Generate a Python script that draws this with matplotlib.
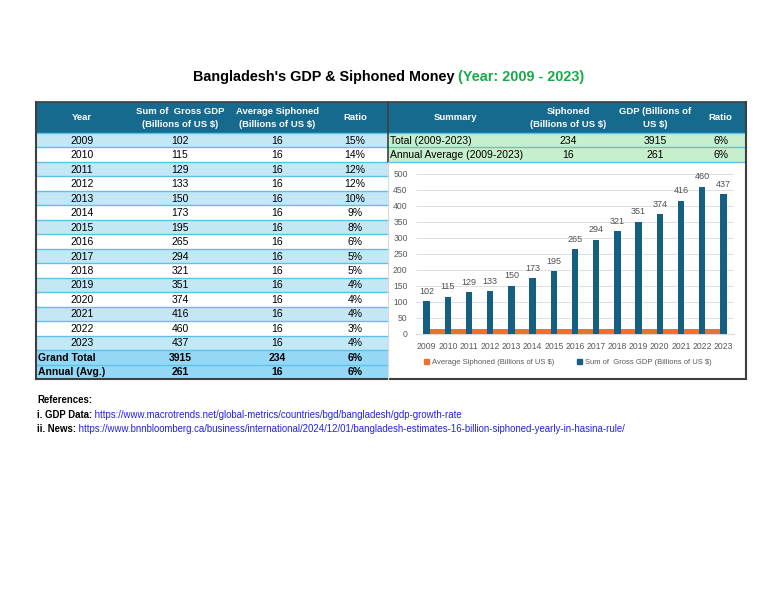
import matplotlib.pyplot as plt
from matplotlib.patches import Rectangle, Patch

# ---- data ----
years = [2009, 2010, 2011, 2012, 2013, 2014, 2015, 2016, 2017, 2018, 2019, 2020, 2021, 2022, 2023]
gdp = [102, 115, 129, 133, 150, 173, 195, 265, 294, 321, 351, 374, 416, 460, 437]
siphoned = [16, 16, 16, 16, 16, 16, 16, 16, 16, 16, 16, 16, 16, 16, 16]
ratio = ['15%', '14%', '12%', '12%', '10%', '9%', '8%', '6%', '5%', '5%', '4%', '4%', '4%', '3%', '4%']
total_row = ['Grand Total', '3915', '234', '6%']
avg_row = ['Annual (Avg.)', '261', '16', '6%']
left_header = ['Year', 'Sum of  Gross GDP\n(Billions of US $)', 'Average Siphoned\n(Billions of US $)', 'Ratio']
summary_header = ['Summary', 'Siphoned\n(Billions of US $)', 'GDP (Billions of\nUS $)', 'Ratio']
summary_rows = [['Total (2009-2023)', '234', '3915', '6%'],
                ['Annual Average (2009-2023)', '16', '261', '6%']]
refs = [('i. GDP Data:', 'https://www.macrotrends.net/global-metrics/countries/bgd/bangladesh/gdp-growth-rate'),
        ('ii. News:', 'https://www.bnnbloomberg.ca/business/international/2024/12/01/bangladesh-estimates-16-billion-siphoned-yearly-in-hasina-rule/')]

plt.rcParams['font.family'] = ['Liberation Sans Narrow', 'Liberation Sans', 'DejaVu Sans']

HEAD = '#156a8e'
LIGHT = '#c4e7f6'
TOTAL = '#94d8f6'
SEP = '#5cc2ec'
GREEN = '#c6efce'
BORDER = '#3f3f3f'
BLUE = '#156082'
ORANGE = '#e97132'

fig = plt.figure(figsize=(7.68, 5.94), dpi=100)
bg = fig.add_axes([0, 0, 1, 1])
bg.set_xlim(0, 768)
bg.set_ylim(594, 0)
bg.axis('off')

# title
t1 = bg.text(193, 77, "Bangladesh's GDP & Siphoned Money ", fontsize=10.4, fontweight='bold',
             ha='left', va='center', color='black')
bg.annotate('(Year: 2009 - 2023)', xy=(1, 0.5), xycoords=t1, va='center', ha='left',
            fontsize=10.4, fontweight='bold', color='#1aaa4a')

# ---- left table ----
top, head_bot, bottom = 102, 133, 379
cols = [36, 128, 232, 322, 388]
nrows = len(years) + 2
rh = (bottom - head_bot) / nrows

bg.add_patch(Rectangle((cols[0], top), cols[-1] - cols[0], head_bot - top, facecolor=HEAD, edgecolor='none'))
for j, h in enumerate(left_header):
    bg.text((cols[j] + cols[j + 1]) / 2, (top + head_bot) / 2 + 0.5, h, color='white', fontsize=6.8,
            fontweight='bold', ha='center', va='center', linespacing=1.7)

rows = [[str(y), str(g), str(s), r] for y, g, s, r in zip(years, gdp, siphoned, ratio)]
rows += [total_row, avg_row]
for i, row in enumerate(rows):
    y0 = head_bot + i * rh
    is_total = i >= len(years)
    if is_total:
        fc = TOTAL
    else:
        fc = LIGHT if i % 2 == 0 else 'white'
    bg.add_patch(Rectangle((cols[0], y0), cols[-1] - cols[0], rh, facecolor=fc, edgecolor='none'))
    bg.plot([cols[0], cols[-1]], [y0, y0], color=SEP, lw=1)
    for j, v in enumerate(row):
        if is_total and j == 0:
            bg.text(cols[0] + 2, y0 + rh / 2 + 0.5, v, fontsize=7.5, fontweight='bold', ha='left', va='center')
        else:
            bg.text((cols[j] + cols[j + 1]) / 2, y0 + rh / 2 + 0.5, v, fontsize=7.5,
                    fontweight='bold' if is_total else 'normal', ha='center', va='center')

# ---- summary table ----
scols = [388, 522, 615, 695, 746]
bg.add_patch(Rectangle((scols[0], top), scols[-1] - scols[0], head_bot - top, facecolor=HEAD, edgecolor='none'))
for j, h in enumerate(summary_header):
    bg.text((scols[j] + scols[j + 1]) / 2, (top + head_bot) / 2 + 0.5, h, color='white', fontsize=6.8,
            fontweight='bold', ha='center', va='center', linespacing=1.7)
for i, row in enumerate(summary_rows):
    y0 = head_bot + i * rh
    bg.add_patch(Rectangle((scols[0], y0), scols[-1] - scols[0], rh, facecolor=GREEN, edgecolor='none'))
    bg.plot([scols[0], scols[-1]], [y0, y0], color=SEP, lw=1)
    for j, v in enumerate(row):
        if j == 0:
            bg.text(scols[0] + 2, y0 + rh / 2 + 0.5, v, fontsize=7.5, ha='left', va='center')
        else:
            bg.text((scols[j] + scols[j + 1]) / 2, y0 + rh / 2 + 0.5, v, fontsize=7.5, ha='center', va='center')
chart_top = head_bot + 2 * rh
bg.plot([scols[0], scols[-1]], [chart_top, chart_top], color=SEP, lw=1)

# borders
bg.plot([cols[0], scols[-1]], [top, top], color=BORDER, lw=1.2)
bg.plot([cols[0], cols[0]], [top, bottom], color=BORDER, lw=1.5)
bg.plot([scols[-1], scols[-1]], [top, bottom], color=BORDER, lw=1.5)
bg.plot([cols[0], scols[-1]], [bottom, bottom], color=BORDER, lw=1.5)
bg.plot([cols[-1], cols[-1]], [top, chart_top], color=BORDER, lw=1.2)
bg.plot([cols[-1], cols[-1]], [chart_top, bottom], color='#d9d9d9', lw=0.8)

# ---- chart ----
ax = fig.add_axes([416 / 768, 1 - 333.7 / 594, (734 - 416) / 768, (333.7 - 174) / 594])
x = list(range(len(years)))
ax.fill_between(x, 0, siphoned, color=ORANGE, lw=0, zorder=2)
bars = ax.bar(x, gdp, width=0.3, color=BLUE, zorder=3)
ax.bar_label(bars, labels=[str(v) for v in gdp], padding=4, fontsize=6.5, color='#505050')
ax.set_xlim(-0.5, len(years) - 0.5)
ax.set_ylim(0, 500)
ax.set_yticks(range(0, 501, 50))
ax.set_xticks(x)
ax.set_xticklabels([str(y) for y in years])
ax.tick_params(length=0, labelsize=6.2, colors='#595959', pad=6)
ax.grid(axis='y', color='#d9d9d9', lw=0.6)
ax.set_axisbelow(True)
for s in ['top', 'right', 'left']:
    ax.spines[s].set_visible(False)
ax.spines['bottom'].set_color('#d9d9d9')
ax.patch.set_alpha(0)

handles = [Patch(color=ORANGE, label='Average Siphoned (Billions of US $)'),
           Patch(color=BLUE, label='Sum of  Gross GDP (Billions of US $)')]
ax.legend(handles=handles, loc='center', bbox_to_anchor=(0.478, -0.183), ncol=2, frameon=False,
          fontsize=5.5, labelcolor='#595959', handlelength=0.6, handleheight=0.6,
          handletextpad=0.45, columnspacing=3.0)

# ---- references ----
bg.text(37, 400, 'References:', fontsize=6.9, fontweight='bold', ha='left', va='center')
for k, (lab, url) in enumerate(refs):
    t = bg.text(37, 414.5 + k * 15, lab, fontsize=6.9, fontweight='bold', ha='left', va='center')
    bg.annotate(' ' + url, xy=(1, 0.5), xycoords=t, ha='left', va='center', fontsize=6.9, color='#2323e6')

fig.savefig('out.png', dpi=100)
